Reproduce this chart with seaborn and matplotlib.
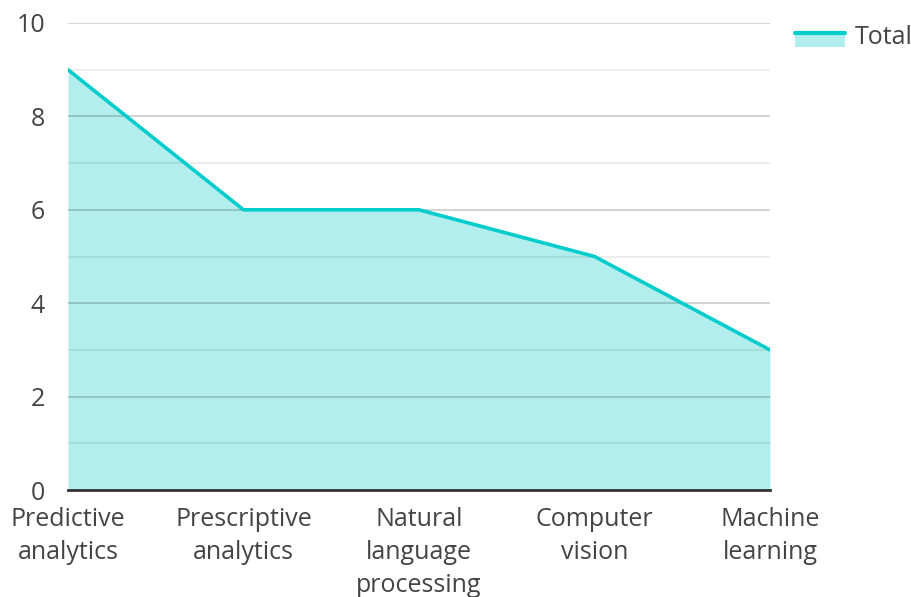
import matplotlib
matplotlib.use("Agg")
import matplotlib.pyplot as plt
import seaborn as sns
import pandas as pd
import numpy as np
from matplotlib.patches import Patch, Rectangle
from matplotlib.lines import Line2D
from matplotlib.ticker import MultipleLocator
from matplotlib.legend_handler import HandlerBase

categories = ["Predictive\nanalytics", "Prescriptive\nanalytics", "Natural\nlanguage\nprocessing",
              "Computer\nvision", "Machine\nlearning"]
totals = [9, 6, 6, 5, 3]
series_name = "Total"

sns.set_theme(style="white")
plt.rcParams['font.family'] = ['Open Sans', 'DejaVu Sans']

line_color = "#00CCCC"
fill_color = "#B2EEEE"
text_color = "#444444"

df = pd.DataFrame({"cat": categories, "val": totals})
xpos = np.arange(len(categories))
df["x"] = xpos

fig = plt.figure(figsize=(9.12, 5.97), dpi=100)
ax = fig.add_axes([68/912, 1-490/597, (770-68)/912, (490-23)/597])

ax.fill_between(df["x"], 0, df["val"], color=fill_color, zorder=1, linewidth=0)
sns.lineplot(data=df, x="x", y="val", ax=ax, color=line_color, linewidth=2.6, zorder=3, sort=False)

ax.set_xlim(0, len(categories)-1)
ax.set_ylim(0, 10)
ax.yaxis.set_major_locator(MultipleLocator(2))
ax.yaxis.set_minor_locator(MultipleLocator(1))
ax.grid(which="major", axis="y", color="#000000", alpha=0.2, linewidth=1.2, zorder=2)
ax.grid(which="minor", axis="y", color="#000000", alpha=0.09, linewidth=1.2, zorder=2)
ax.set_axisbelow(False)
for s in ["top", "right", "left"]:
    ax.spines[s].set_visible(False)
ax.spines["bottom"].set_color("#333333")
ax.spines["bottom"].set_linewidth(2)
ax.spines["bottom"].set_zorder(4)

ax.set_xticks(xpos)
ax.set_xticklabels(categories, fontsize=18, color=text_color, linespacing=1.42)
ax.tick_params(axis="y", labelsize=18, labelcolor=text_color, length=0, pad=16.5)
ax.tick_params(axis="x", length=0, pad=12)
ax.tick_params(which="minor", length=0)
ax.set_xlabel("")
ax.set_ylabel("")


class HandlerAreaLine(HandlerBase):
    def create_artists(self, legend, orig_handle, xdescent, ydescent, width, height, fontsize, trans):
        top = -ydescent + height * 0.85 - 3
        r = Rectangle((-xdescent, top - 14 * 0.72), width, 14 * 0.72, facecolor=fill_color,
                      edgecolor="none", transform=trans)
        l = Line2D([-xdescent, -xdescent + width], [top, top], color=line_color, linewidth=3,
                   transform=trans)
        return [r, l]


fig.legend([Patch()], [series_name], loc="center left", bbox_to_anchor=(795/912, 1-37/597),
           frameon=False, fontsize=18, handlelength=2.0, handletextpad=0.4, borderpad=0,
           borderaxespad=0, labelcolor=text_color, handler_map={Patch: HandlerAreaLine()})

fig.savefig("out.png", dpi=100)
